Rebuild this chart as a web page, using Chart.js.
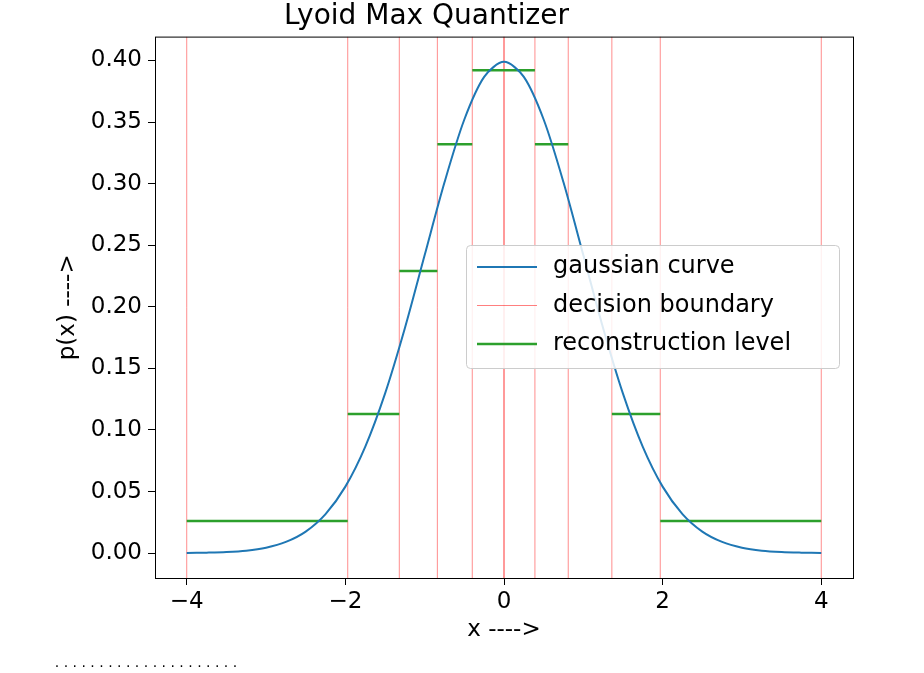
<!DOCTYPE html>
<html>
<head>
<meta charset="utf-8">
<script src="https://cdn.jsdelivr.net/npm/chart.js@4"></script>
<style>body{margin:0;background:#fff}</style>
</head>
<body>
<canvas id="myChart" width="924" height="673"></canvas>
<script>
// gaussian curve
const curveX = [-4,-3.75,-3.5,-3.25,-3,-2.75,-2.5,-2.25,-2,-1.75,-1.5,-1.25,-1,-0.75,-0.5,-0.25,0,0.25,0.5,0.75,1,1.25,1.5,1.75,2,2.25,2.5,2.75,3,3.25,3.5,3.75,4];
const curveY = [0.0001,0.0004,0.0009,0.0020,0.0044,0.0091,0.0175,0.0317,0.0540,0.0863,0.1295,0.1826,0.2420,0.3011,0.3521,0.3867,0.3989,0.3867,0.3521,0.3011,0.2420,0.1826,0.1295,0.0863,0.0540,0.0317,0.0175,0.0091,0.0044,0.0020,0.0009,0.0004,0.0001];
// decision boundaries
const boundaries = [-4,-1.97,-1.32,-0.84,-0.40,0,0,0.39,0.81,1.36,1.97,4];
// reconstruction levels [start, end, level]
const levelStart = [-4,-1.97,-1.32,-0.84,-0.40,0.39,1.36,1.97];
const levelEnd   = [-1.97,-1.32,-0.84,-0.40,0.39,0.81,1.97,4];
const levelValue = [0.026,0.113,0.229,0.332,0.392,0.332,0.113,0.026];
const xTicks = [-4,-2,0,2,4];
const yTicks = [0,0.05,0.1,0.15,0.2,0.25,0.3,0.35,0.4];
const Y_MIN = -0.0202, Y_MAX = 0.4194;

const FONT = 'DejaVu Sans';
const datasets = [];
datasets.push({
  label: 'gaussian curve',
  data: curveX.map((x, i) => ({x: x, y: curveY[i]})),
  borderColor: '#1f77b4', borderWidth: 2, pointRadius: 0, tension: 0.3, order: 0
});
boundaries.forEach(b => datasets.push({
  label: 'decision boundary',
  data: [{x: b, y: Y_MIN}, {x: b, y: Y_MAX}],
  borderColor: 'rgba(255,0,0,0.45)', borderWidth: 1, pointRadius: 0, order: 2
}));
levelValue.forEach((v, i) => datasets.push({
  label: 'reconstruction level',
  data: [{x: levelStart[i], y: v}, {x: levelEnd[i], y: v}],
  borderColor: '#2ca02c', borderWidth: 2.5, pointRadius: 0, order: 1
}));

const decor = {
  id: 'decor',
  afterDraw(chart) {
    const ctx = chart.ctx, a = chart.chartArea;
    ctx.save();
    ctx.strokeStyle = '#000'; ctx.lineWidth = 1;
    ctx.strokeRect(a.left + 0.5, a.top + 0.5, a.right - a.left, a.bottom - a.top);
    ctx.fillStyle = '#000';
    ctx.font = '23px ' + FONT;
    ctx.textAlign = 'center'; ctx.textBaseline = 'middle';
    ctx.fillText('x ---->', (a.left + a.right) / 2, 630);
    ctx.save(); ctx.translate(68, (a.top + a.bottom) / 2); ctx.rotate(-Math.PI / 2);
    ctx.fillText('p(x) ---->', 0, 0); ctx.restore();
    ctx.font = '14px ' + FONT;
    for (let i = 0; i < 21; i++) ctx.fillText('.', 57 + i * 8.9, 663);
    // legend
    ctx.textAlign = 'left';
    ctx.fillStyle = 'rgba(255,255,255,0.85)';
    ctx.strokeStyle = '#ccc';
    ctx.beginPath(); ctx.roundRect(466.5, 245.5, 373, 123, 4); ctx.fill(); ctx.stroke();
    const items = [['gaussian curve', '#1f77b4', 2], ['decision boundary', 'rgba(255,0,0,0.5)', 1], ['reconstruction level', '#2ca02c', 2.5]];
    ctx.font = '24px ' + FONT;
    items.forEach((it, i) => {
      const y = 267 + i * 38.5;
      ctx.strokeStyle = it[1]; ctx.lineWidth = it[2];
      ctx.beginPath(); ctx.moveTo(477, y); ctx.lineTo(537, y); ctx.stroke();
      ctx.fillStyle = '#000'; ctx.fillText(it[0], 553, y);
    });
    ctx.restore();
  }
};

new Chart(document.getElementById('myChart').getContext('2d'), {
  type: 'line',
  data: {datasets: datasets},
  plugins: [decor],
  options: {
    responsive: false, animation: false,
    layout: {padding: {left: 0, right: 71, top: 0, bottom: 0}},
    plugins: {
      legend: {display: false}, tooltip: {enabled: false},
      title: {display: true, text: 'Lyoid Max Quantizer', color: '#000',
        font: {family: FONT, size: 28, weight: 'normal'}, padding: {top: 0, bottom: 3}}
    },
    scales: {
      x: {
        type: 'linear', min: -4.4, max: 4.4,
        afterBuildTicks: s => { s.ticks = xTicks.map(v => ({value: v})); },
        afterFit: s => { s.height = 95; },
        grid: {drawOnChartArea: false, drawTicks: true, tickLength: 7, color: '#000'},
        border: {display: false},
        ticks: {color: '#000', font: {family: FONT, size: 23}, padding: 3,
          callback: v => String(v).replace('-', '\u2212')}
      },
      y: {
        min: Y_MIN, max: Y_MAX,
        afterBuildTicks: s => { s.ticks = yTicks.map(v => ({value: v})); },
        afterFit: s => { s.width = 155; },
        grid: {drawOnChartArea: false, drawTicks: true, tickLength: 7, color: '#000'},
        border: {display: false},
        ticks: {color: '#000', font: {family: FONT, size: 23}, padding: 6,
          callback: v => v.toFixed(2)}
      }
    }
  }
});
</script>
</body>
</html>
